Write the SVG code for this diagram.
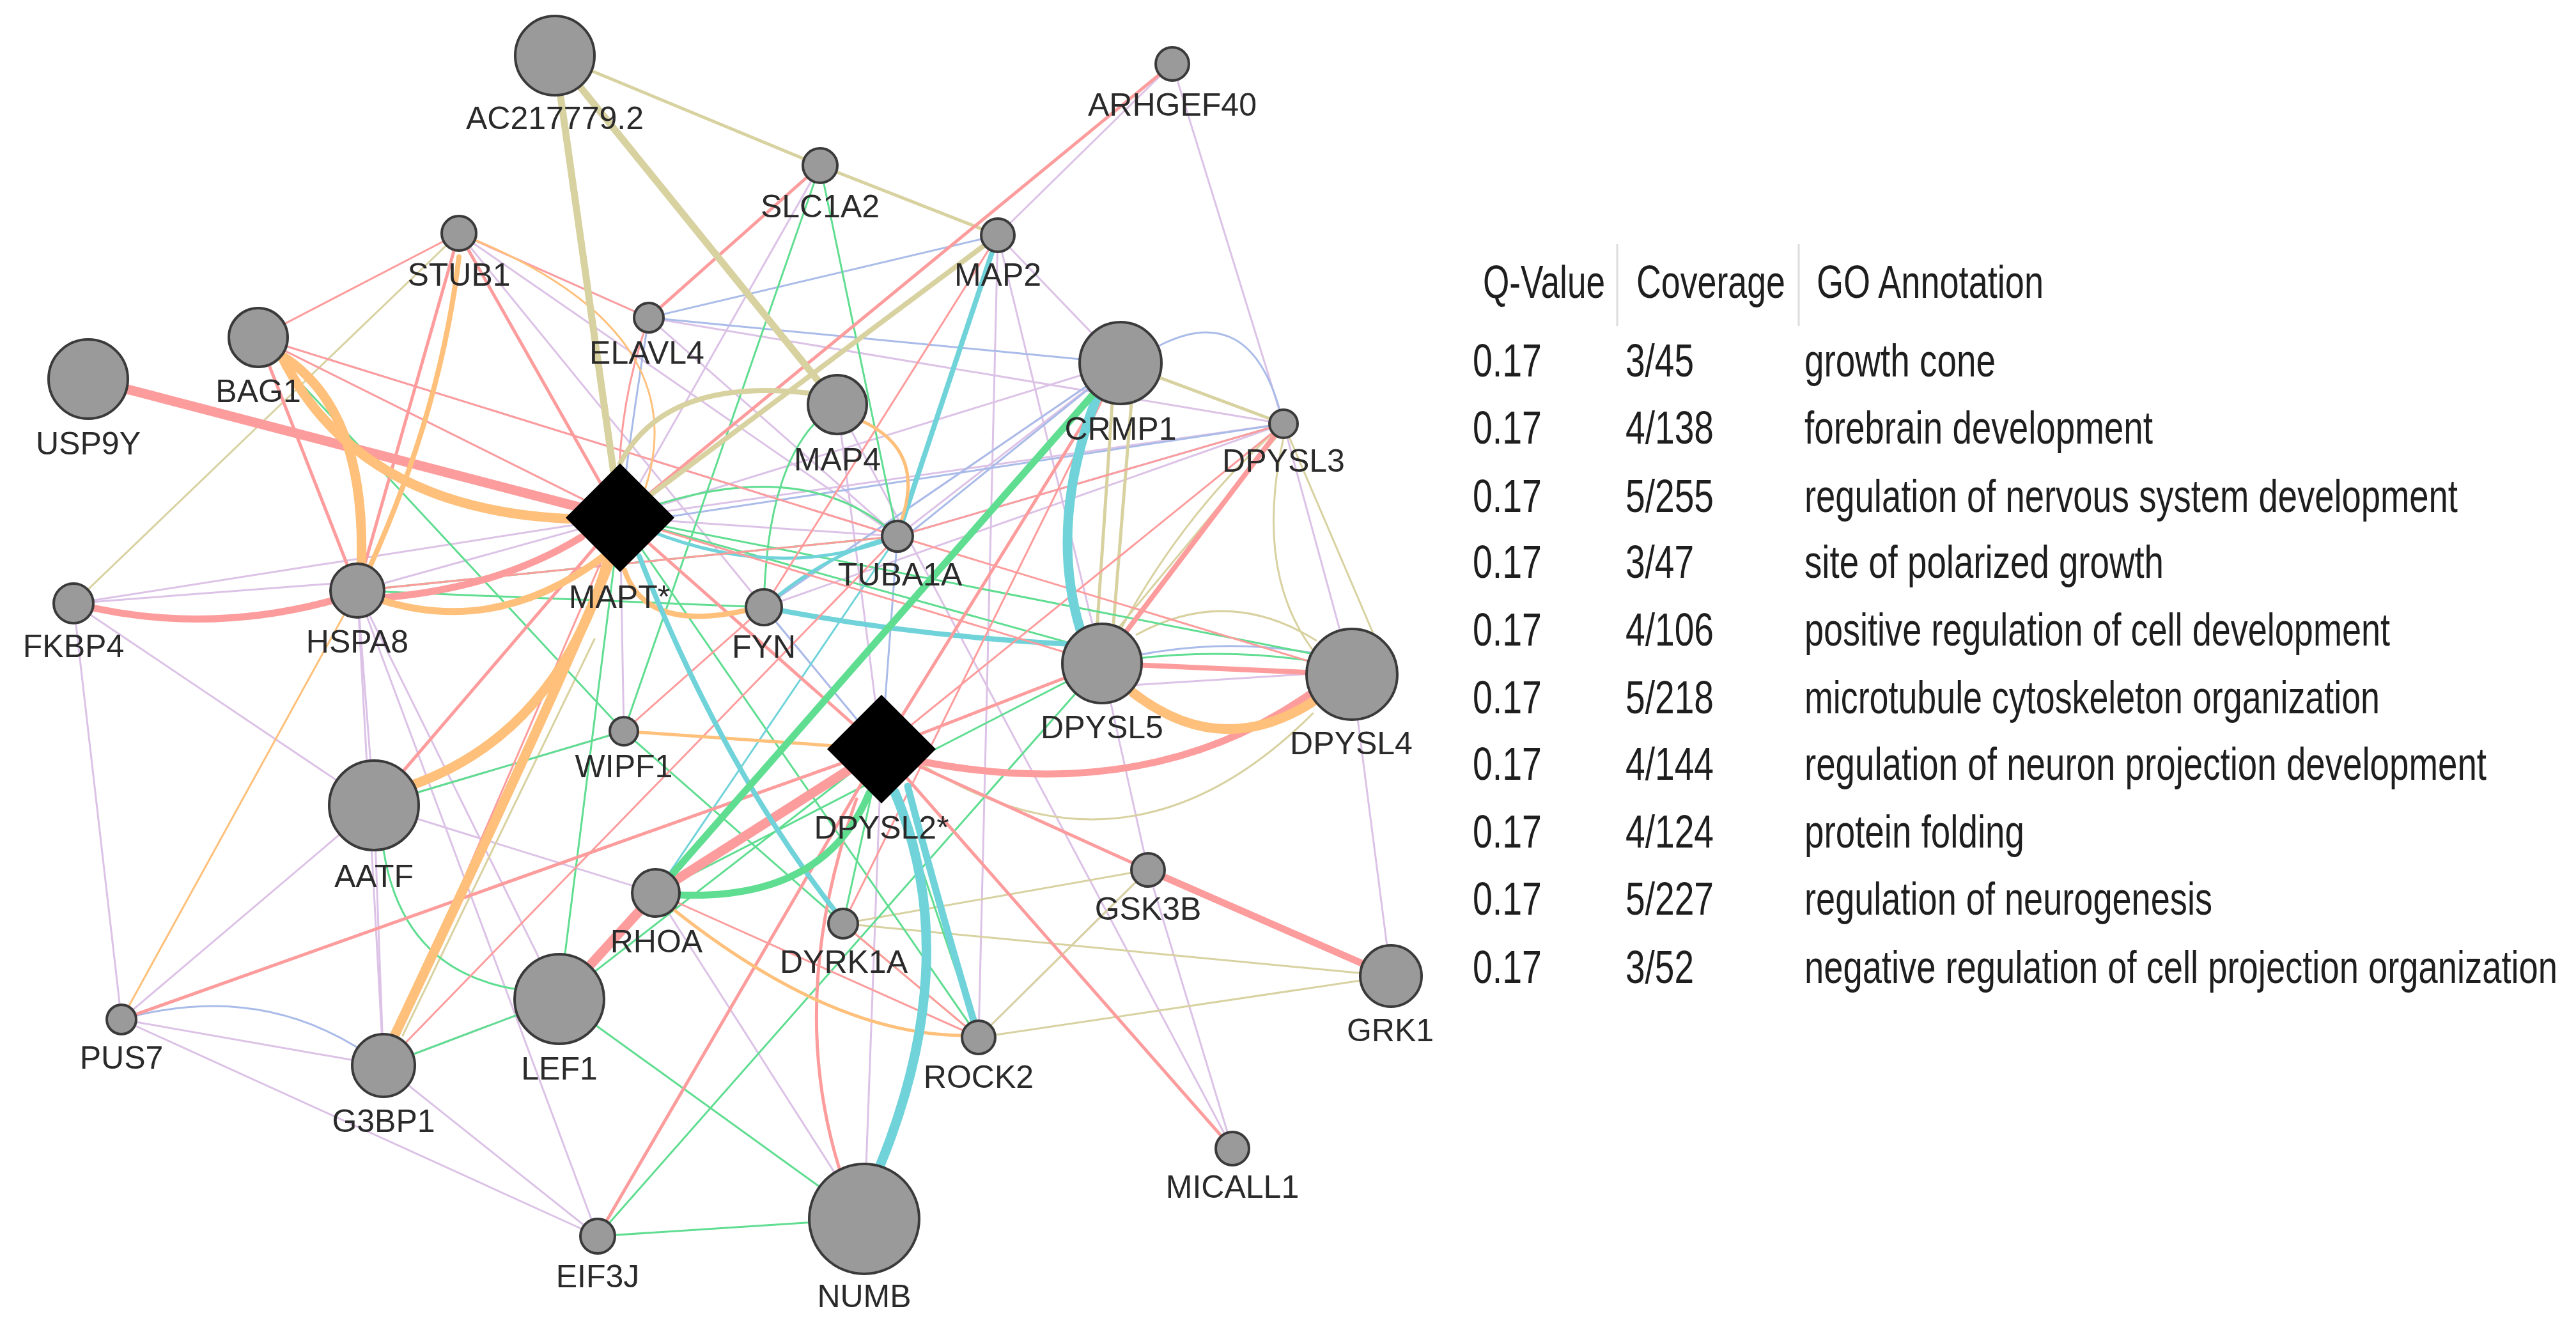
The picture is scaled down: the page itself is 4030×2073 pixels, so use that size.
<svg xmlns="http://www.w3.org/2000/svg" width="4030" height="2073" viewBox="0 0 4030 2073">
<style>
.e{fill:none;stroke-linecap:round}
.pk{stroke:#fd9c9c}.or{stroke:#fec07a}.gr{stroke:#5fdd90}.cy{stroke:#70d3d9}.be{stroke:#d8d1a0}.pu{stroke:#dcc2e6}.bl{stroke:#a9bbe8}
.w1{stroke-width:3}.w2{stroke-width:5}.w3{stroke-width:8}.w4{stroke-width:11}.w5{stroke-width:15}
.n{fill:#9a9a9a;stroke:#3a3a3a;stroke-width:4}
.d{fill:#000}
.lb{font-family:"Liberation Sans",Arial,sans-serif;font-size:50px;fill:#2a2a2a;text-anchor:middle}
.tb{font-family:"Liberation Sans",Arial,sans-serif;font-size:54px;fill:#1e1e1e}
</style>
<rect width="4030" height="2073" fill="#fff"/>
<g id="connectors">
<path class="e pu w1" d="M115,944 L970,810"/>
<path class="e pu w1" d="M115,944 L559,910"/>
<path class="e pu w1" d="M115,944 L190,1595"/>
<path class="e pu w1" d="M115,944 L585,1260"/>
<path class="e pu w1" d="M404,528 L1404,839"/>
<path class="e pu w1" d="M718,365 L1195,950"/>
<path class="e pu w1" d="M718,365 L1404,839"/>
<path class="e pu w1" d="M559,924 L585,1260"/>
<path class="e pu w1" d="M559,924 L600,1667"/>
<path class="e pu w1" d="M559,924 L875,1563"/>
<path class="e pu w1" d="M559,924 L935,1934"/>
<path class="e pu w1" d="M559,924 L970,810"/>
<path class="e pu w1" d="M190,1595 L600,1667"/>
<path class="e pu w1" d="M190,1595 L935,1934"/>
<path class="e pu w1" d="M190,1595 L585,1260"/>
<path class="e pu w1" d="M585,1260 L600,1667"/>
<path class="e pu w1" d="M585,1260 L1026,1397"/>
<path class="e pu w1" d="M585,1260 L976,1144"/>
<path class="e pu w1" d="M600,1667 L935,1934"/>
<path class="e pu w1" d="M600,1667 L875,1563"/>
<path class="e pu w1" d="M875,1563 L1026,1397"/>
<path class="e pu w1" d="M1834,100 L1561,368"/>
<path class="e pu w1" d="M1834,100 L2008,663"/>
<path class="e pu w1" d="M1283,259 L1561,368"/>
<path class="e pu w1" d="M1283,259 L970,810"/>
<path class="e pu w1" d="M1561,368 L1753,568"/>
<path class="e pu w1" d="M1561,368 L1724,1038"/>
<path class="e pu w1" d="M1561,368 L1531,1623"/>
<path class="e pu w1" d="M1753,568 L2008,663"/>
<path class="e pu w1" d="M1753,568 L1404,839"/>
<path class="e pu w1" d="M1753,568 L970,810"/>
<path class="e pu w1" d="M1753,568 L1195,950"/>
<path class="e pu w1" d="M2008,663 L2115,1055"/>
<path class="e pu w1" d="M2008,663 L970,810"/>
<path class="e pu w1" d="M2008,663 L1195,950"/>
<path class="e pu w1" d="M2115,1055 L2176,1527"/>
<path class="e pu w1" d="M1724,1075 L2115,1050"/>
<path class="e pu w1" d="M1724,1038 L1796,1361"/>
<path class="e pu w1" d="M1796,1361 L1928,1797"/>
<path class="e pu w1" d="M1796,1361 L1531,1623"/>
<path class="e pu w1" d="M1310,633 L1928,1797"/>
<path class="e pu w1" d="M1379,1172 L1352,1907"/>
<path class="e pu w1" d="M1026,1397 L1352,1907"/>
<path class="e pu w1" d="M976,1144 L970,810"/>
<path class="e pu w1" d="M1015,497 L2008,663"/>
<path class="e pu w1" d="M1015,497 L1404,839"/>
<path class="e pu w1" d="M718,365 L1015,497"/>
<path class="e pu w1" d="M970,810 L1404,839"/>
<path class="e pu w1" d="M404,528 L970,810"/>
<path class="e pu w1" d="M1195,950 L1379,1172"/>
<path class="e pu w1" d="M1310,633 L1379,1172"/>
<path class="e bl w1" d="M1283,259 L1015,497"/>
<path class="e bl w1" d="M1015,497 L1561,368"/>
<path class="e bl w1" d="M1015,497 L1753,568"/>
<path class="e bl w1" d="M1015,497 Q990,650 970,810"/>
<path class="e bl w1" d="M1815,540 Q1955,470 2003,645"/>
<path class="e bl w1" d="M1724,1038 Q1920,985 2115,1035"/>
<path class="e bl w1" d="M2008,663 L1404,839"/>
<path class="e bl w1" d="M2008,663 L970,820"/>
<path class="e bl w1" d="M1753,568 L1404,850"/>
<path class="e bl w1" d="M1404,839 L1379,1172"/>
<path class="e bl w1" d="M1195,950 L1379,1172"/>
<path class="e bl w1" d="M190,1595 Q420,1530 600,1667"/>
<path class="e bl w1" d="M1753,568 L1195,950"/>
<path class="e be w1" d="M718,365 L115,944"/>
<path class="e be w2" d="M868,87 L1283,259 L1561,368"/>
<path class="e be w2" d="M1753,568 L2008,663"/>
<path class="e be w2" d="M1740,630 L1715,1000"/>
<path class="e be w2" d="M1770,630 L1740,1000"/>
<path class="e be w1" d="M2000,680 L1735,1000"/>
<path class="e be w1" d="M2008,663 Q1850,800 1745,1000"/>
<path class="e be w1" d="M2008,685 Q1960,900 2060,1025"/>
<path class="e be w1" d="M2008,663 L2150,995"/>
<path class="e be w1" d="M1778,993 Q1920,915 2059,1002"/>
<path class="e be w1" d="M1445,1198 Q1770,1400 2054,1116"/>
<path class="e be w1" d="M1379,1172 L1724,1038"/>
<path class="e be w1" d="M1796,1361 L1319,1445"/>
<path class="e be w1" d="M1319,1445 L2176,1527"/>
<path class="e be w1" d="M1531,1623 L2176,1527"/>
<path class="e be w1" d="M1531,1623 L1796,1361"/>
<path class="e be w1" d="M1319,1445 L1531,1623"/>
<path class="e be w1" d="M930,1000 L630,1620"/>
<path class="e gr w1" d="M970,810 L2115,1035"/>
<path class="e gr w1" d="M970,810 L1724,1020"/>
<path class="e gr w1" d="M970,810 L1531,1623"/>
<path class="e gr w1" d="M970,810 L875,1563"/>
<path class="e gr w1" d="M1283,259 L1404,839"/>
<path class="e gr w1" d="M1283,259 L976,1144"/>
<path class="e gr w1" d="M404,528 L976,1144"/>
<path class="e gr w1" d="M559,924 L1195,950"/>
<path class="e gr w1" d="M559,924 L1404,839"/>
<path class="e gr w1" d="M600,1330 Q630,1520 810,1548"/>
<path class="e gr w1" d="M585,1260 L976,1144"/>
<path class="e gr w1" d="M600,1667 L875,1563"/>
<path class="e gr w1" d="M875,1563 L1379,1172"/>
<path class="e gr w1" d="M875,1563 L1352,1907"/>
<path class="e gr w1" d="M935,1934 L1352,1907"/>
<path class="e gr w1" d="M935,1934 L1724,1038"/>
<path class="e gr w1" d="M1379,1172 L1928,1797"/>
<path class="e gr w1" d="M1319,1445 L1379,1172"/>
<path class="e gr w1" d="M1531,1623 L1379,1172"/>
<path class="e gr w1" d="M1724,1038 Q1920,1005 2115,1045"/>
<path class="e gr w1" d="M1195,950 Q1200,700 1310,633"/>
<path class="e gr w1" d="M976,1144 L1319,1445"/>
<path class="e gr w1" d="M1026,1397 L1724,1038"/>
<path class="e gr w1" d="M970,810 Q1250,700 1404,839"/>
<path class="e cy w1" d="M718,365 L559,924"/>
<path class="e cy w1" d="M1026,1397 L1404,839"/>
<path class="e cy w1" d="M1379,1172 L1796,1361"/>
<path class="e cy w2" d="M1195,950 Q1300,860 1404,839"/>
<path class="e cy w2" d="M970,810 Q1200,920 1404,839"/>
<path class="e cy w3" d="M1195,950 Q1450,1000 1724,1010"/>
<path class="e cy w3" d="M1561,368 L1404,839"/>
<path class="e pk w1" d="M718,365 L404,528"/>
<path class="e pk w1" d="M718,365 L1015,497"/>
<path class="e pk w1" d="M404,528 L970,810"/>
<path class="e pk w1" d="M1015,497 Q960,650 970,810"/>
<path class="e pk w1" d="M1561,368 L1195,950"/>
<path class="e pk w1" d="M1753,568 L1319,1445"/>
<path class="e pk w1" d="M2008,663 L1404,839"/>
<path class="e pk w1" d="M2008,663 L1379,1172"/>
<path class="e pk w1" d="M1404,839 L2115,1055"/>
<path class="e pk w1" d="M970,810 L1724,1038"/>
<path class="e pk w1" d="M600,1667 L1404,839"/>
<path class="e pk w1" d="M559,924 L1404,839"/>
<path class="e pk w1" d="M404,528 L1404,839"/>
<path class="e pk w1" d="M976,1144 L1195,950"/>
<path class="e pk w1" d="M1319,1445 L1531,1623"/>
<path class="e pk w1" d="M1026,1397 L1531,1623"/>
<path class="e pk w1" d="M600,1667 L970,810"/>
<path class="e pk w2" d="M718,365 L970,810"/>
<path class="e pk w2" d="M718,365 L559,924"/>
<path class="e pk w2" d="M404,528 L559,924"/>
<path class="e pk w2" d="M1834,100 L970,810"/>
<path class="e pk w2" d="M1283,259 L1015,497"/>
<path class="e pk w2" d="M1753,568 L1379,1172"/>
<path class="e pk w2" d="M585,1260 L970,810"/>
<path class="e pk w2" d="M970,810 L1379,1172"/>
<path class="e pk w2" d="M1379,1172 L1724,1038"/>
<path class="e pk w2" d="M1379,1172 L1796,1361"/>
<path class="e pk w2" d="M1379,1172 L1928,1797"/>
<path class="e pk w2" d="M935,1934 L1379,1172"/>
<path class="e pk w2" d="M190,1595 L1379,1172"/>
<path class="e pk w2" d="M1313,1828 Q1230,1560 1340,1250"/>
<path class="e pk w3" d="M2008,663 L1724,1038"/>
<path class="e pk w3" d="M1724,1038 L2115,1055"/>
<path class="e pk w4" d="M1796,1361 L2176,1527"/>
<path class="e pk w4" d="M1445,1192 Q1800,1260 2050,1085"/>
<path class="e pk w4" d="M115,944 Q335,1000 559,928"/>
<path class="e pk w4" d="M600,935 Q780,920 910,840"/>
<path class="e pk w5" d="M138,593 L970,810"/>
<path class="e pk w5" d="M875,1563 L1026,1397"/>
<path class="e pk w5" d="M1026,1397 L1379,1172"/>
<path class="e or w1" d="M559,924 L190,1595"/>
<path class="e or w1" d="M718,365 Q1110,520 1000,790"/>
<path class="e or w2" d="M976,1144 L1379,1172"/>
<path class="e or w2" d="M1340,655 Q1450,700 1410,815"/>
<path class="e or w2" d="M1050,1420 Q1300,1620 1510,1620"/>
<path class="e or w3" d="M718,402 Q690,640 580,884"/>
<path class="e or w3" d="M977,892 Q1010,990 1167,955"/>
<path class="e or w4" d="M600,940 Q780,995 945,870"/>
<path class="e or w5" d="M440,556 Q575,640 565,891"/>
<path class="e or w5" d="M440,556 Q560,800 900,812"/>
<path class="e or w5" d="M640,1230 Q870,1150 950,880"/>
<path class="e or w5" d="M955,875 Q910,1000 615,1625"/>
<path class="e or w5" d="M1773,1084 Q1910,1190 2054,1098"/>
<path class="e be w3" d="M970,725 Q1040,590 1265,615"/>
<path class="e be w3" d="M970,810 L1561,368"/>
<path class="e be w4" d="M868,87 L1310,633"/>
<path class="e be w4" d="M868,87 L970,810"/>
<path class="e cy w3" d="M1000,870 Q1130,1200 1310,1430"/>
<path class="e cy w4" d="M1420,1230 Q1470,1420 1531,1623"/>
<path class="e cy w5" d="M1400,1240 Q1510,1500 1375,1828"/>
<path class="e cy w5" d="M1715,624 Q1640,820 1690,985"/>
<path class="e gr w4" d="M1753,568 L1026,1397"/>
<path class="e gr w4" d="M1360,1240 Q1290,1410 1060,1400"/>
</g>
<g id="nodes">
<g id="n-AC217779.2"><circle class="n" cx="868" cy="87" r="62"/><text class="lb" x="868" y="202">AC217779.2</text></g>
<g id="n-ARHGEF40"><circle class="n" cx="1834" cy="100" r="26"/><text class="lb" x="1834" y="181">ARHGEF40</text></g>
<g id="n-SLC1A2"><circle class="n" cx="1283" cy="259" r="27"/><text class="lb" x="1283" y="340">SLC1A2</text></g>
<g id="n-MAP2"><circle class="n" cx="1561" cy="368" r="26"/><text class="lb" x="1561" y="447">MAP2</text></g>
<g id="n-STUB1"><circle class="n" cx="718" cy="365" r="27"/><text class="lb" x="718" y="447">STUB1</text></g>
<g id="n-ELAVL4"><circle class="n" cx="1015" cy="497" r="23"/><text class="lb" x="1012" y="569">ELAVL4</text></g>
<g id="n-BAG1"><circle class="n" cx="404" cy="528" r="46"/><text class="lb" x="404" y="629">BAG1</text></g>
<g id="n-USP9Y"><circle class="n" cx="138" cy="593" r="62"/><text class="lb" x="138" y="711">USP9Y</text></g>
<g id="n-MAPT"><polygon class="d" points="970,725 1055,810 970,895 885,810"/><text class="lb" x="969" y="951">MAPT*</text></g>
<g id="n-HSPA8"><circle class="n" cx="559" cy="924" r="42"/><text class="lb" x="559" y="1021">HSPA8</text></g>
<g id="n-FKBP4"><circle class="n" cx="115" cy="944" r="31"/><text class="lb" x="115" y="1028">FKBP4</text></g>
<g id="n-MAP4"><circle class="n" cx="1310" cy="633" r="46"/><text class="lb" x="1310" y="736">MAP4</text></g>
<g id="n-CRMP1"><circle class="n" cx="1753" cy="568" r="64"/><text class="lb" x="1753" y="688">CRMP1</text></g>
<g id="n-DPYSL3"><circle class="n" cx="2008" cy="663" r="22"/><text class="lb" x="2008" y="738">DPYSL3</text></g>
<g id="n-TUBA1A"><circle class="n" cx="1404" cy="839" r="24"/><text class="lb" x="1408" y="916">TUBA1A</text></g>
<g id="n-FYN"><circle class="n" cx="1195" cy="950" r="28"/><text class="lb" x="1195" y="1029">FYN</text></g>
<g id="n-WIPF1"><circle class="n" cx="976" cy="1144" r="22"/><text class="lb" x="976" y="1216">WIPF1</text></g>
<g id="n-AATF"><circle class="n" cx="585" cy="1260" r="70"/><text class="lb" x="585" y="1388">AATF</text></g>
<g id="n-DPYSL5"><circle class="n" cx="1724" cy="1038" r="62"/><text class="lb" x="1724" y="1155">DPYSL5</text></g>
<g id="n-DPYSL4"><circle class="n" cx="2115" cy="1055" r="71"/><text class="lb" x="2114" y="1180">DPYSL4</text></g>
<g id="n-DPYSL2"><polygon class="d" points="1379,1087 1464,1172 1379,1257 1294,1172"/><text class="lb" x="1379" y="1312">DPYSL2*</text></g>
<g id="n-RHOA"><circle class="n" cx="1026" cy="1397" r="37"/><text class="lb" x="1027" y="1490">RHOA</text></g>
<g id="n-GSK3B"><circle class="n" cx="1796" cy="1361" r="26"/><text class="lb" x="1796" y="1439">GSK3B</text></g>
<g id="n-DYRK1A"><circle class="n" cx="1319" cy="1445" r="23"/><text class="lb" x="1320" y="1522">DYRK1A</text></g>
<g id="n-LEF1"><circle class="n" cx="875" cy="1563" r="70"/><text class="lb" x="875" y="1689">LEF1</text></g>
<g id="n-PUS7"><circle class="n" cx="190" cy="1595" r="23"/><text class="lb" x="190" y="1672">PUS7</text></g>
<g id="n-G3BP1"><circle class="n" cx="600" cy="1667" r="49"/><text class="lb" x="600" y="1771">G3BP1</text></g>
<g id="n-GRK1"><circle class="n" cx="2176" cy="1527" r="48"/><text class="lb" x="2175" y="1629">GRK1</text></g>
<g id="n-ROCK2"><circle class="n" cx="1531" cy="1623" r="26"/><text class="lb" x="1531" y="1702">ROCK2</text></g>
<g id="n-MICALL1"><circle class="n" cx="1928" cy="1797" r="26"/><text class="lb" x="1928" y="1874">MICALL1</text></g>
<g id="n-EIF3J"><circle class="n" cx="935" cy="1934" r="27"/><text class="lb" x="935" y="2014">EIF3J</text></g>
<g id="n-NUMB"><circle class="n" cx="1352" cy="1907" r="86"/><text class="lb" x="1352" y="2045">NUMB</text></g>
</g>
<g id="table">
<line x1="2530" y1="382" x2="2530" y2="510" stroke="#dddddd" stroke-width="3"/>
<line x1="2814" y1="382" x2="2814" y2="510" stroke="#dddddd" stroke-width="3"/>
<g transform="scale(1,1.35)">
<text class="tb" x="2320" y="345" textLength="191" lengthAdjust="spacingAndGlyphs">Q-Value</text>
<text class="tb" x="2560" y="345" textLength="233" lengthAdjust="spacingAndGlyphs">Coverage</text>
<text class="tb" x="2842" y="345" textLength="355" lengthAdjust="spacingAndGlyphs">GO Annotation</text>
<text class="tb" x="2304" y="436" textLength="108" lengthAdjust="spacingAndGlyphs">0.17</text>
<text class="tb" x="2543" y="436" textLength="107" lengthAdjust="spacingAndGlyphs">3/45</text>
<text class="tb" x="2823" y="436" textLength="299" lengthAdjust="spacingAndGlyphs">growth cone</text>
<text class="tb" x="2304" y="514" textLength="108" lengthAdjust="spacingAndGlyphs">0.17</text>
<text class="tb" x="2543" y="514" textLength="138" lengthAdjust="spacingAndGlyphs">4/138</text>
<text class="tb" x="2823" y="514" textLength="545" lengthAdjust="spacingAndGlyphs">forebrain development</text>
<text class="tb" x="2304" y="593" textLength="108" lengthAdjust="spacingAndGlyphs">0.17</text>
<text class="tb" x="2543" y="593" textLength="138" lengthAdjust="spacingAndGlyphs">5/255</text>
<text class="tb" x="2823" y="593" textLength="1022" lengthAdjust="spacingAndGlyphs">regulation of nervous system development</text>
<text class="tb" x="2304" y="670" textLength="108" lengthAdjust="spacingAndGlyphs">0.17</text>
<text class="tb" x="2543" y="670" textLength="107" lengthAdjust="spacingAndGlyphs">3/47</text>
<text class="tb" x="2823" y="670" textLength="562" lengthAdjust="spacingAndGlyphs">site of polarized growth</text>
<text class="tb" x="2304" y="748" textLength="108" lengthAdjust="spacingAndGlyphs">0.17</text>
<text class="tb" x="2543" y="748" textLength="138" lengthAdjust="spacingAndGlyphs">4/106</text>
<text class="tb" x="2823" y="748" textLength="916" lengthAdjust="spacingAndGlyphs">positive regulation of cell development</text>
<text class="tb" x="2304" y="827" textLength="108" lengthAdjust="spacingAndGlyphs">0.17</text>
<text class="tb" x="2543" y="827" textLength="138" lengthAdjust="spacingAndGlyphs">5/218</text>
<text class="tb" x="2823" y="827" textLength="900" lengthAdjust="spacingAndGlyphs">microtubule cytoskeleton organization</text>
<text class="tb" x="2304" y="904" textLength="108" lengthAdjust="spacingAndGlyphs">0.17</text>
<text class="tb" x="2543" y="904" textLength="138" lengthAdjust="spacingAndGlyphs">4/144</text>
<text class="tb" x="2823" y="904" textLength="1067" lengthAdjust="spacingAndGlyphs">regulation of neuron projection development</text>
<text class="tb" x="2304" y="982" textLength="108" lengthAdjust="spacingAndGlyphs">0.17</text>
<text class="tb" x="2543" y="982" textLength="138" lengthAdjust="spacingAndGlyphs">4/124</text>
<text class="tb" x="2823" y="982" textLength="344" lengthAdjust="spacingAndGlyphs">protein folding</text>
<text class="tb" x="2304" y="1060" textLength="108" lengthAdjust="spacingAndGlyphs">0.17</text>
<text class="tb" x="2543" y="1060" textLength="138" lengthAdjust="spacingAndGlyphs">5/227</text>
<text class="tb" x="2823" y="1060" textLength="638" lengthAdjust="spacingAndGlyphs">regulation of neurogenesis</text>
<text class="tb" x="2304" y="1139" textLength="108" lengthAdjust="spacingAndGlyphs">0.17</text>
<text class="tb" x="2543" y="1139" textLength="107" lengthAdjust="spacingAndGlyphs">3/52</text>
<text class="tb" x="2823" y="1139" textLength="1178" lengthAdjust="spacingAndGlyphs">negative regulation of cell projection organization</text>
</g>
</g>
</svg>
